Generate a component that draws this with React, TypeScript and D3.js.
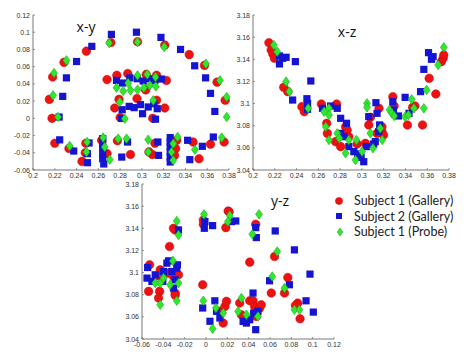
import React from "react";
import * as d3 from "d3";

type P = [number, number];

// ---------- x-y panel ----------
const xyRed: P[] = [
  [0.215, 0.022], [0.2175, 0.0], [0.218, 0.048], [0.22, -0.029], [0.2285, 0.065], [0.233, -0.035],
  [0.245, -0.05], [0.249, 0.078], [0.2485, -0.029], [0.248, -0.04], [0.2715, 0.088], [0.268, 0.045],
  [0.277, 0.05], [0.279, 0.022], [0.275, 0.012], [0.28, 0.001], [0.287, 0.052], [0.2955, 0.023],
  [0.296, 0.089], [0.304, 0.051], [0.3035, 0.033], [0.31, 0.0], [0.312, -0.029], [0.3095, -0.042],
  [0.321, 0.085], [0.3225, 0.044], [0.321, 0.012], [0.2895, -0.042], [0.2775, -0.026], [0.3435, 0.074],
  [0.347, -0.0275], [0.3525, -0.047], [0.3575, 0.0615], [0.363, -0.03], [0.369, 0.042], [0.3765, 0.021],
  [0.3755, -0.0275], [0.3135, 0.05], [0.3135, 0.021], [0.263, -0.0255], [0.268, -0.041], [0.332, -0.0255],
  [0.331, -0.035], [0.33, -0.043], [0.3065, -0.039],
];
const xyBlue: P[] = [
  [0.272, 0.0975], [0.295, 0.1], [0.3175, 0.094], [0.254, 0.0836], [0.3355, 0.08], [0.24, 0.066],
  [0.3485, 0.061], [0.2307, 0.047], [0.3585, 0.047], [0.2273, 0.0255], [0.363, 0.029], [0.224, 0.0015],
  [0.367, 0.008], [0.2245, -0.025], [0.2374, -0.038], [0.2515, -0.0286], [0.25, -0.0515], [0.25, -0.041],
  [0.264, -0.0236], [0.264, -0.029], [0.264, -0.035], [0.264, -0.041], [0.264, -0.047], [0.265, -0.053],
  [0.2815, -0.045], [0.2868, -0.0275], [0.3147, -0.0275], [0.3153, -0.043], [0.326, -0.0224], [0.326, -0.0275],
  [0.326, -0.033], [0.326, -0.039], [0.326, -0.045], [0.326, -0.0507], [0.342, -0.0255], [0.344, -0.048],
  [0.3555, -0.0325], [0.3656, -0.0217],
  [0.2767, 0.044], [0.2822, 0.041], [0.2889, 0.047], [0.2957, 0.046], [0.3012, 0.0433], [0.3067, 0.046],
  [0.3119, 0.044], [0.318, 0.0456],
  [0.2819, 0.01], [0.2883, 0.0139], [0.2929, 0.0124], [0.2987, 0.0159], [0.3006, 0.0054], [0.3058, 0.0132],
  [0.311, 0.017], [0.3141, 0.0112], [0.2813, 0.0], [0.3125, -0.001],
];
const xyGreen: P[] = [
  [0.2193, 0.0526], [0.2184, 0.0267], [0.2307, 0.0673], [0.2699, 0.0874], [0.296, 0.0886], [0.3205, 0.0828],
  [0.3588, 0.0634], [0.3717, 0.0441], [0.3779, 0.0248], [0.3779, 0.0015], [0.2337, -0.0321], [0.2497, -0.0275],
  [0.2491, -0.0391], [0.2644, -0.0224], [0.2705, -0.048], [0.2782, -0.0236], [0.2859, -0.0236], [0.3058, -0.0248],
  [0.3058, -0.0391], [0.3273, -0.0391], [0.3288, -0.0487], [0.3328, -0.0217], [0.3487, -0.0364], [0.3733, -0.0224],
  [0.223, 0.0015], [0.2767, 0.0356], [0.2828, 0.0317], [0.2895, 0.0325], [0.296, 0.0333], [0.3018, 0.0356],
  [0.3073, 0.0383], [0.3128, 0.0371], [0.2874, 0.041], [0.296, 0.0499], [0.3049, 0.0511], [0.3125, 0.048],
  [0.2797, 0.019], [0.2843, -0.0004], [0.3104, 0.0209], [0.3288, -0.0294], [0.2659, -0.0333],
];

// ---------- x-z panel ----------
const xzRed: P[] = [
  [0.2146, 3.155], [0.2167, 3.1484], [0.2182, 3.1448], [0.2197, 3.1409], [0.2282, 3.1147], [0.2319, 3.1108],
  [0.2449, 3.0972], [0.2471, 3.0927], [0.2628, 3.0996], [0.2768, 3.0996], [0.2677, 3.0822], [0.2683, 3.0731],
  [0.2759, 3.0656], [0.285, 3.0791], [0.2865, 3.0761], [0.288, 3.0701], [0.2956, 3.0635], [0.3032, 3.0641],
  [0.3063, 3.0807], [0.3078, 3.0876], [0.3157, 3.0957], [0.3184, 3.0746], [0.3199, 3.0716], [0.3284, 3.1062],
  [0.3296, 3.0978], [0.3418, 3.0807], [0.3466, 3.0966], [0.3487, 3.0978], [0.3557, 3.0807], [0.3618, 3.1228],
  [0.3679, 3.1087], [0.373, 3.1379], [0.3746, 3.1409], [0.3752, 3.1439], [0.2805, 3.0611], [0.3139, 3.0731],
  [0.3184, 3.0791],
];
const xzBlue: P[] = [
  [0.2243, 3.143], [0.2273, 3.1409], [0.2304, 3.1418], [0.2243, 3.1358], [0.2389, 3.1379], [0.2364, 3.1032],
  [0.2531, 3.1204], [0.2495, 3.1044], [0.2501, 3.1002], [0.2501, 3.0948], [0.2638, 3.0957], [0.2713, 3.0978],
  [0.2774, 3.0957], [0.2805, 3.0867], [0.2859, 3.0822], [0.2805, 3.0731], [0.2835, 3.0701], [0.288, 3.0611],
  [0.2926, 3.0566], [0.2962, 3.0545], [0.2993, 3.0514], [0.3017, 3.0475], [0.3041, 3.0611], [0.3063, 3.0882],
  [0.3129, 3.1008], [0.3139, 3.0912], [0.3163, 3.0807], [0.3154, 3.0746], [0.3123, 3.0656], [0.3108, 3.0635],
  [0.3284, 3.1017], [0.329, 3.0942], [0.3336, 3.0888], [0.3397, 3.1056], [0.3433, 3.0912], [0.3539, 3.1108],
  [0.3569, 3.1309], [0.3612, 3.146], [0.3639, 3.14], [0.3654, 3.1424],
];
const xzGreen: P[] = [
  [0.2191, 3.1529], [0.2222, 3.1469], [0.2304, 3.1198], [0.2334, 3.1108], [0.2507, 3.0957], [0.2653, 3.0927],
  [0.2698, 3.0957], [0.2698, 3.0897], [0.2668, 3.0791], [0.2698, 3.0671], [0.2774, 3.0731], [0.2793, 3.0686],
  [0.285, 3.0551], [0.288, 3.0671], [0.2941, 3.049], [0.295, 3.0671], [0.3002, 3.0566], [0.3047, 3.1002],
  [0.3047, 3.0966], [0.3078, 3.0731], [0.3102, 3.0596], [0.3169, 3.0776], [0.3187, 3.0671], [0.3254, 3.0942],
  [0.3275, 3.0912], [0.3296, 3.0888], [0.3397, 3.0882], [0.3427, 3.0897], [0.3457, 3.1038], [0.3478, 3.0957],
  [0.3569, 3.0957], [0.3594, 3.1123], [0.37, 3.1349], [0.3752, 3.1508],
];

// ---------- y-z panel ----------
const yzRed: P[] = [
  [-0.0529, 3.107], [-0.0538, 3.083], [-0.0445, 3.097], [-0.0429, 3.1025], [-0.0435, 3.083], [-0.0445, 3.077],
  [-0.0342, 3.1235], [-0.0305, 3.14], [-0.029, 3.1385], [-0.0305, 3.0965], [-0.035, 3.0995], [-0.0289, 3.0815],
  [-0.0289, 3.0795], [-0.0258, 3.098], [-0.0031, 3.089], [-0.0025, 3.1475], [-0.0025, 3.1436], [0.013, 3.065],
  [0.0161, 3.0544], [0.0177, 3.0694], [0.0192, 3.074], [0.0208, 3.1556], [0.0186, 3.1406], [0.0217, 3.155],
  [0.041, 3.1094], [0.0316, 3.0725], [0.041, 3.0746], [0.0441, 3.0746], [0.0456, 3.0694], [0.0472, 3.0604],
  [0.0503, 3.0679], [0.0518, 3.0709], [0.0466, 3.1436], [0.0643, 3.1145], [0.0612, 3.0815], [0.0736, 3.0815],
  [0.0767, 3.0956], [0.086, 3.0724], [0.0838, 3.0703], [0.0882, 3.0583], [0.0332, 3.0619],
];
const yzBlue: P[] = [
  [-0.0547, 3.1046], [-0.0553, 3.095], [-0.0507, 3.092], [-0.0476, 3.098], [-0.0398, 3.101], [-0.0367, 3.1085],
  [-0.0351, 3.1106], [-0.032, 3.101], [-0.0305, 3.086], [-0.0289, 3.0935], [-0.0274, 3.104], [-0.0268, 3.107],
  [-0.0405, 3.092], [-0.0258, 3.1385], [-0.0031, 3.068], [-0.001, 3.146], [-0.0016, 3.14], [0.0062, 3.1424],
  [0.0083, 3.0745], [0.0037, 3.056], [0.013, 3.059], [0.0099, 3.065], [0.0239, 3.146], [0.0279, 3.1466],
  [0.0348, 3.0559], [0.0379, 3.0544], [0.041, 3.0574], [0.0441, 3.0815], [0.0447, 3.0634], [0.0466, 3.0484],
  [0.0466, 3.1406], [0.0472, 3.1316], [0.0487, 3.065], [0.0596, 3.0926], [0.0649, 3.1376], [0.0829, 3.1205],
  [0.0782, 3.089], [0.0938, 3.0745], [0.0975, 3.0986], [0.1006, 3.0643],
];
const yzGreen: P[] = [
  [-0.0274, 3.1466], [-0.0258, 3.134], [-0.0429, 3.0709], [-0.0476, 3.0905], [-0.0429, 3.0905], [-0.0398, 3.095],
  [-0.0336, 3.089], [-0.0274, 3.0745], [-0.0258, 3.0905], [-0.0311, 3.1106], [-0.0019, 3.1526], [-0.0025, 3.0745],
  [0.0062, 3.0493], [0.0093, 3.068], [0.0223, 3.1514], [0.0161, 3.0634], [0.0301, 3.0649], [0.0332, 3.077],
  [0.0379, 3.0619], [0.0434, 3.1346], [0.0497, 3.1526], [0.0487, 3.0604], [0.0621, 3.0965], [0.0668, 3.119],
  [0.0736, 3.086], [0.0829, 3.0664], [0.0876, 3.0664], [0.0205, 3.146],
];

// ---------- ticks & labels ----------
const xTicksXY = [0.2, 0.22, 0.24, 0.26, 0.28, 0.3, 0.32, 0.34, 0.36, 0.38];
const yTicksXY = [-0.06, -0.04, -0.02, 0, 0.02, 0.04, 0.06, 0.08, 0.1, 0.12];
const zTicks = [3.04, 3.06, 3.08, 3.1, 3.12, 3.14, 3.16, 3.18];
const yTicksYZ = [-0.06, -0.04, -0.02, 0, 0.02, 0.04, 0.06, 0.08, 0.1, 0.12];
const panelTitles = ["x-y", "x-z", "y-z"];
const legendLabels = ["Subject 1 (Gallery)", "Subject 2 (Gallery)", "Subject 1 (Probe)"];

const RED = "#ee1111";
const RED_EDGE = "#c40c0c";
const BLUE = "#1414d2";
const GREEN = "#2ee82e";
const GREEN_EDGE = "#14a014";

const fmt = (v: number) => String(+v.toFixed(2));

function Circle({ x, y, r = 4.3 }: { x: number; y: number; r?: number }) {
  return <circle cx={x} cy={y} r={r} fill={RED} stroke={RED_EDGE} strokeWidth={0.5} />;
}
function Square({ x, y, s = 7.2 }: { x: number; y: number; s?: number }) {
  return <rect x={x - s / 2} y={y - s / 2} width={s} height={s} fill={BLUE} />;
}
function Diamond({ x, y, w = 3.5, h = 4.8 }: { x: number; y: number; w?: number; h?: number }) {
  return (
    <path
      d={`M${x},${y - h}L${x + w},${y}L${x},${y + h}L${x - w},${y}Z`}
      fill={GREEN}
      stroke={GREEN_EDGE}
      strokeWidth={0.5}
    />
  );
}

type PanelProps = {
  x0: number; x1: number; yTop: number; yBot: number;
  xDom: [number, number]; yDom: [number, number];
  xTicks: number[]; yTicks: number[];
  red: P[]; blue: P[]; green: P[];
  title: string; tx: number; ty: number;
};

function Panel(p: PanelProps) {
  const xs = d3.scaleLinear().domain(p.xDom).range([p.x0, p.x1]);
  const ys = d3.scaleLinear().domain(p.yDom).range([p.yBot, p.yTop]);
  const axisColor = "#555";
  return (
    <g>
      <line x1={p.x0} x2={p.x1} y1={p.yBot} y2={p.yBot} stroke={axisColor} strokeWidth={0.8} />
      <line x1={p.x0} x2={p.x0} y1={p.yTop} y2={p.yBot} stroke={axisColor} strokeWidth={0.8} />
      {p.xTicks.map((t) => (
        <g key={"x" + t}>
          <line x1={xs(t)} x2={xs(t)} y1={p.yBot} y2={p.yBot - 2} stroke={axisColor} strokeWidth={0.6} />
          <text x={xs(t)} y={p.yBot + 8} fontSize={7} fill="#333" textAnchor="middle"
            fontFamily="Liberation Sans, Arial, sans-serif">{fmt(t)}</text>
        </g>
      ))}
      {p.yTicks.map((t) => (
        <g key={"y" + t}>
          <line x1={p.x0} x2={p.x0 + 2} y1={ys(t)} y2={ys(t)} stroke={axisColor} strokeWidth={0.6} />
          <text x={p.x0 - 3} y={ys(t) + 2.5} fontSize={7} fill="#333" textAnchor="end"
            fontFamily="Liberation Sans, Arial, sans-serif">{fmt(t)}</text>
        </g>
      ))}
      {p.red.map((d, i) => <Circle key={"r" + i} x={xs(d[0])} y={ys(d[1])} />)}
      {p.blue.map((d, i) => <Square key={"b" + i} x={xs(d[0])} y={ys(d[1])} />)}
      {p.green.map((d, i) => <Diamond key={"g" + i} x={xs(d[0])} y={ys(d[1])} />)}
      <text x={p.tx} y={p.ty} fontSize={14} fill="#111" textAnchor="middle"
        fontFamily="Open Sans, sans-serif">{p.title}</text>
    </g>
  );
}

export default function App() {
  return (
    <svg width={474} height={361} style={{ position: "absolute", left: 0, top: 0, background: "#fff" }}>
      <rect width={474} height={361} fill="#fff" />
      <Panel x0={33} x1={229} yTop={15} yBot={170} xDom={[0.2, 0.38]} yDom={[-0.06, 0.12]}
        xTicks={xTicksXY} yTicks={yTicksXY} red={xyRed} blue={xyBlue} green={xyGreen}
        title={panelTitles[0]} tx={86} ty={32} />
      <Panel x0={253} x1={449} yTop={15} yBot={170} xDom={[0.2, 0.38]} yDom={[3.04, 3.18]}
        xTicks={xTicksXY} yTicks={zTicks} red={xzRed} blue={xzBlue} green={xzGreen}
        title={panelTitles[1]} tx={347} ty={37} />
      <Panel x0={142} x1={334} yTop={184} yBot={339} xDom={[-0.06, 0.12]} yDom={[3.04, 3.18]}
        xTicks={yTicksYZ} yTicks={zTicks} red={yzRed} blue={yzBlue} green={yzGreen}
        title={panelTitles[2]} tx={280} ty={206} />
      {/* legend */}
      <Circle x={339} y={201} r={3.6} />
      <Square x={339} y={216} s={6} />
      <Diamond x={340} y={232} w={2.8} h={4} />
      {legendLabels.map((l, i) => (
        <text key={l} x={354} y={205 + i * 15.5} fontSize={12.5} fill="#222"
          fontFamily="Lato, sans-serif">{l}</text>
      ))}
    </svg>
  );
}
